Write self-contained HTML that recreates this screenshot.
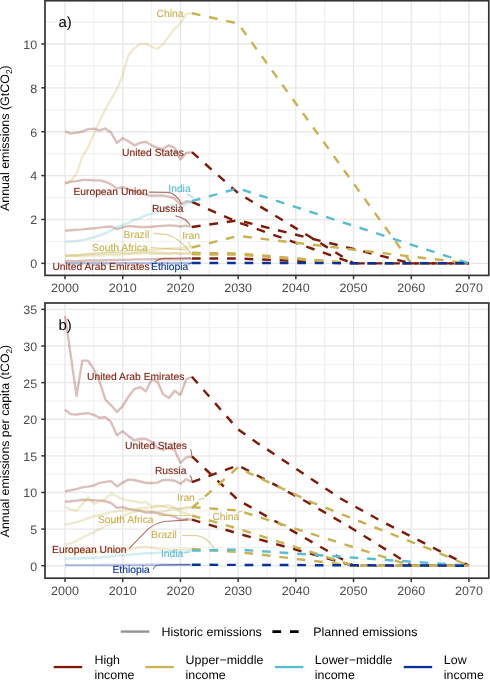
<!DOCTYPE html><html><head><meta charset="utf-8"><style>html,body{margin:0;padding:0;background:#fff;}svg{display:block;}</style></head><body>
<svg width="490" height="685" viewBox="0 0 490 685" font-family='"Liberation Sans", Arial, Helvetica, sans-serif' text-rendering="geometricPrecision">
<rect width="490" height="685" fill="#fff"/>
<g stroke="#f1f1f1" stroke-width="1.3"><line x1="45.0" y1="241.41" x2="488.8" y2="241.41"/><line x1="45.0" y1="197.53" x2="488.8" y2="197.53"/><line x1="45.0" y1="153.65" x2="488.8" y2="153.65"/><line x1="45.0" y1="109.77" x2="488.8" y2="109.77"/><line x1="45.0" y1="65.89" x2="488.8" y2="65.89"/><line x1="45.0" y1="22.01" x2="488.8" y2="22.01"/><line x1="93.86" y1="0.7" x2="93.86" y2="275.4"/><line x1="151.56" y1="0.7" x2="151.56" y2="275.4"/><line x1="209.28" y1="0.7" x2="209.28" y2="275.4"/><line x1="266.99" y1="0.7" x2="266.99" y2="275.4"/><line x1="324.69" y1="0.7" x2="324.69" y2="275.4"/><line x1="382.40" y1="0.7" x2="382.40" y2="275.4"/><line x1="440.12" y1="0.7" x2="440.12" y2="275.4"/></g>
<g stroke="#e8e8e8" stroke-width="1.4"><line x1="45.0" y1="263.35" x2="488.8" y2="263.35"/><line x1="45.0" y1="219.47" x2="488.8" y2="219.47"/><line x1="45.0" y1="175.59" x2="488.8" y2="175.59"/><line x1="45.0" y1="131.71" x2="488.8" y2="131.71"/><line x1="45.0" y1="87.83" x2="488.8" y2="87.83"/><line x1="45.0" y1="43.95" x2="488.8" y2="43.95"/><line x1="65.00" y1="0.7" x2="65.00" y2="275.4"/><line x1="122.71" y1="0.7" x2="122.71" y2="275.4"/><line x1="180.42" y1="0.7" x2="180.42" y2="275.4"/><line x1="238.13" y1="0.7" x2="238.13" y2="275.4"/><line x1="295.84" y1="0.7" x2="295.84" y2="275.4"/><line x1="353.55" y1="0.7" x2="353.55" y2="275.4"/><line x1="411.26" y1="0.7" x2="411.26" y2="275.4"/><line x1="468.97" y1="0.7" x2="468.97" y2="275.4"/></g>
<clipPath id="clipa"><rect x="45.0" y="0.7" width="443.8" height="274.7"/></clipPath>
<g clip-path="url(#clipa)" fill="none" stroke-linejoin="round" stroke-linecap="butt">
<polyline points="65.00,183.27 70.77,181.73 76.54,181.08 82.31,179.98 88.08,179.98 93.86,180.42 99.63,180.42 105.40,181.73 111.17,184.37 116.94,188.53 122.71,187.00 128.48,189.19 134.25,190.95 140.02,192.70 145.79,194.90 151.56,195.77 157.34,195.56 163.11,195.56 168.88,196.65 174.65,198.63 180.42,204.99 186.19,201.26 191.96,201.92" stroke="#7f1a08" stroke-opacity="0.28" stroke-width="2.4"/>
<polyline points="65.00,230.66 70.77,230.22 76.54,229.78 82.31,229.34 88.08,228.68 93.86,228.25 99.63,227.59 105.40,226.93 111.17,226.49 116.94,229.12 122.71,227.37 128.48,226.05 134.25,226.49 140.02,226.93 145.79,226.93 151.56,226.71 157.34,226.27 163.11,225.83 168.88,225.39 174.65,225.61 180.42,226.49 186.19,225.61 191.96,226.93" stroke="#7f1a08" stroke-opacity="0.28" stroke-width="2.4"/>
<polyline points="65.00,260.94 70.77,260.94 76.54,261.16 82.31,260.72 88.08,260.50 93.86,260.50 99.63,260.50 105.40,260.28 111.17,260.06 116.94,260.06 122.71,259.84 128.48,259.84 134.25,259.40 140.02,259.40 145.79,259.40 151.56,259.18 157.34,258.96 163.11,259.18 168.88,259.18 174.65,259.18 180.42,259.18 186.19,258.96 191.96,258.74" stroke="#7f1a08" stroke-opacity="0.28" stroke-width="2.4"/>
<polyline points="65.00,131.27 70.77,133.68 76.54,132.59 82.31,131.71 88.08,129.08 93.86,128.64 99.63,130.61 105.40,128.42 111.17,132.81 116.94,142.90 122.71,138.29 128.48,141.36 134.25,145.31 140.02,142.90 145.79,141.80 151.56,145.31 157.34,147.95 163.11,149.04 168.88,145.31 174.65,147.95 180.42,159.35 186.19,152.99 191.96,152.11" stroke="#7f1a08" stroke-opacity="0.28" stroke-width="2.4"/>
<polyline points="65.00,256.11 70.77,255.89 76.54,256.11 82.31,256.33 88.08,255.89 93.86,255.67 99.63,255.67 105.40,255.23 111.17,254.79 116.94,255.23 122.71,254.14 128.48,253.70 134.25,253.04 140.02,252.38 145.79,251.72 151.56,252.38 157.34,253.04 163.11,253.04 168.88,253.26 174.65,253.04 180.42,253.70 186.19,252.60 191.96,252.82" stroke="#c9b252" stroke-opacity="0.28" stroke-width="2.4"/>
<polyline points="65.00,183.27 70.77,180.86 76.54,173.83 82.31,156.72 88.08,147.29 93.86,133.90 99.63,120.74 105.40,109.33 111.17,98.80 116.94,89.37 122.71,75.10 128.48,54.92 134.25,48.34 140.02,43.95 145.79,43.95 151.56,46.58 157.34,49.00 163.11,43.95 168.88,36.27 174.65,28.59 180.42,23.55 186.19,13.67 191.96,13.23" stroke="#c9b252" stroke-opacity="0.28" stroke-width="2.4"/>
<polyline points="65.00,256.11 70.77,255.67 76.54,255.23 82.31,254.79 88.08,254.14 93.86,253.48 99.63,252.82 105.40,252.38 111.17,251.94 116.94,251.50 122.71,251.06 128.48,250.84 134.25,250.62 140.02,250.19 145.79,249.75 151.56,250.19 157.34,249.75 163.11,249.09 168.88,248.43 174.65,247.99 180.42,247.99 186.19,247.55 191.96,247.55" stroke="#c9b252" stroke-opacity="0.28" stroke-width="2.4"/>
<polyline points="65.00,255.01 70.77,255.01 76.54,255.23 82.31,254.57 88.08,253.92 93.86,254.14 99.63,253.92 105.40,253.26 111.17,252.82 116.94,253.04 122.71,253.26 128.48,253.48 134.25,253.48 140.02,253.48 145.79,253.04 151.56,253.70 157.34,253.48 163.11,253.48 168.88,253.70 174.65,253.04 180.42,253.92 186.19,253.92 191.96,254.35" stroke="#c9b252" stroke-opacity="0.28" stroke-width="2.4"/>
<polyline points="65.00,241.85 70.77,241.41 76.54,240.97 82.31,240.09 88.08,238.78 93.86,237.46 99.63,235.49 105.40,233.07 111.17,230.44 116.94,227.15 122.71,225.17 128.48,222.98 134.25,219.91 140.02,218.15 145.79,215.08 151.56,213.77 157.34,211.35 163.11,209.16 168.88,205.87 174.65,204.99 180.42,208.50 186.19,203.67 191.96,201.04" stroke="#58bdd3" stroke-opacity="0.28" stroke-width="2.4"/>
<polyline points="65.00,263.24 70.77,263.24 76.54,263.24 82.31,263.24 88.08,263.22 93.86,263.22 99.63,263.22 105.40,263.20 111.17,263.20 116.94,263.20 122.71,263.17 128.48,263.15 134.25,263.13 140.02,263.11 145.79,263.09 151.56,263.06 157.34,263.04 163.11,263.00 168.88,262.98 174.65,262.96 180.42,262.96 186.19,262.96 191.96,262.96" stroke="#07329c" stroke-opacity="0.28" stroke-width="2.4"/>
<path d="M149,192.2 L168,192.3 Q176,193 181.6,204" stroke="#7f1a08" stroke-opacity="0.6" stroke-width="1.2"/>
<path d="M187,194 L193.5,197.5" stroke="#58bdd3" stroke-opacity="0.6" stroke-width="1.2"/>
<path d="M175.5,215.9 Q186,218 190,225" stroke="#7f1a08" stroke-opacity="0.6" stroke-width="1.2"/>
<path d="M153.6,233.3 L166.4,234.3 Q180,238 190.7,253" stroke="#c9b252" stroke-opacity="0.6" stroke-width="1.2"/>
<path d="M188,242 L191.4,247" stroke="#c9b252" stroke-opacity="0.6" stroke-width="1.2"/>
<path d="M151,247.6 L188,250" stroke="#c9b252" stroke-opacity="0.6" stroke-width="1.2"/>
<path d="M155,262.1 Q158,258.6 165,258.4 L191,258" stroke="#7f1a08" stroke-opacity="0.6" stroke-width="1.2"/>
<path d="M188,264.3 L192,262.9" stroke="#07329c" stroke-opacity="0.6" stroke-width="1.2"/>
<polyline points="191.96,201.92 238.13,222.32 353.55,263.35 468.97,263.35" stroke="#7f1a08" stroke-width="2.45" stroke-dasharray="8.7 8.85"/>
<polyline points="191.96,226.93 238.13,220.35 411.26,263.35 468.97,263.35" stroke="#7f1a08" stroke-width="2.45" stroke-dasharray="8.7 8.85"/>
<polyline points="191.96,258.52 238.13,258.52 353.55,263.35 468.97,263.35" stroke="#7f1a08" stroke-width="2.45" stroke-dasharray="8.7 8.85"/>
<polyline points="191.96,152.11 238.13,193.14 353.55,263.35 468.97,263.35" stroke="#7f1a08" stroke-width="2.45" stroke-dasharray="8.7 8.85"/>
<polyline points="191.96,252.82 238.13,253.48 353.55,263.35 468.97,263.35" stroke="#c9b252" stroke-width="2.45" stroke-dasharray="8.7 8.85"/>
<polyline points="191.96,13.23 238.13,23.55 411.26,263.35 468.97,263.35" stroke="#c9b252" stroke-width="2.45" stroke-dasharray="8.7 8.85"/>
<polyline points="191.96,247.55 238.13,235.93 468.97,263.35" stroke="#c9b252" stroke-width="2.45" stroke-dasharray="8.7 8.85"/>
<polyline points="191.96,254.35 238.13,254.57 353.55,263.35 468.97,263.35" stroke="#c9b252" stroke-width="2.45" stroke-dasharray="8.7 8.85"/>
<polyline points="191.96,201.04 238.13,188.32 468.97,263.35" stroke="#58bdd3" stroke-width="2.45" stroke-dasharray="8.7 8.85"/>
<polyline points="191.96,263.00 238.13,263.00 468.97,263.35" stroke="#07329c" stroke-width="2.45" stroke-dasharray="8.7 8.85"/>
</g>
<text x="156.5" y="16.8" font-size="10.3" fill="#c9b252" stroke="#c9b252" stroke-width="0.2" stroke-opacity="0.55" text-anchor="start">China</text>
<text x="122.0" y="156.3" font-size="10.3" fill="#7f1a08" stroke="#7f1a08" stroke-width="0.2" stroke-opacity="0.55" text-anchor="start">United States</text>
<text x="73.4" y="194.6" font-size="10.3" fill="#7f1a08" stroke="#7f1a08" stroke-width="0.2" stroke-opacity="0.55" text-anchor="start">European Union</text>
<text x="168.3" y="192.4" font-size="10.3" fill="#58bdd3" stroke="#58bdd3" stroke-width="0.2" stroke-opacity="0.55" text-anchor="start">India</text>
<text x="151.9" y="211.85" font-size="10.3" fill="#7f1a08" stroke="#7f1a08" stroke-width="0.2" stroke-opacity="0.55" text-anchor="start">Russia</text>
<text x="123.6" y="237.8" font-size="10.3" fill="#c9b252" stroke="#c9b252" stroke-width="0.2" stroke-opacity="0.55" text-anchor="start">Brazil</text>
<text x="182.2" y="238.8" font-size="10.3" fill="#c9b252" stroke="#c9b252" stroke-width="0.2" stroke-opacity="0.55" text-anchor="start">Iran</text>
<text x="92.1" y="250.5" font-size="10.3" fill="#c9b252" stroke="#c9b252" stroke-width="0.2" stroke-opacity="0.55" text-anchor="start">South Africa</text>
<text x="52.4" y="270.0" font-size="10.3" fill="#7f1a08" stroke="#7f1a08" stroke-width="0.2" stroke-opacity="0.55" text-anchor="start">United Arab Emirates</text>
<text x="151.1" y="269.7" font-size="10.3" fill="#07329c" stroke="#07329c" stroke-width="0.2" stroke-opacity="0.55" text-anchor="start">Ethiopia</text>
<rect x="45.0" y="0.7" width="443.80" height="274.70" fill="none" stroke="#333" stroke-width="1.7"/>
<g stroke="#333" stroke-width="1.5"><line x1="41.3" y1="263.35" x2="45.0" y2="263.35"/><line x1="41.3" y1="219.47" x2="45.0" y2="219.47"/><line x1="41.3" y1="175.59" x2="45.0" y2="175.59"/><line x1="41.3" y1="131.71" x2="45.0" y2="131.71"/><line x1="41.3" y1="87.83" x2="45.0" y2="87.83"/><line x1="41.3" y1="43.95" x2="45.0" y2="43.95"/><line x1="65.00" y1="275.4" x2="65.00" y2="279.30"/><line x1="122.71" y1="275.4" x2="122.71" y2="279.30"/><line x1="180.42" y1="275.4" x2="180.42" y2="279.30"/><line x1="238.13" y1="275.4" x2="238.13" y2="279.30"/><line x1="295.84" y1="275.4" x2="295.84" y2="279.30"/><line x1="353.55" y1="275.4" x2="353.55" y2="279.30"/><line x1="411.26" y1="275.4" x2="411.26" y2="279.30"/><line x1="468.97" y1="275.4" x2="468.97" y2="279.30"/></g>
<g font-size="12.2" fill="#4d4d4d"><text transform="translate(37.2,268.25) scale(1.025,1)" text-anchor="end">0</text><text transform="translate(37.2,224.37) scale(1.025,1)" text-anchor="end">2</text><text transform="translate(37.2,180.49) scale(1.025,1)" text-anchor="end">4</text><text transform="translate(37.2,136.61) scale(1.025,1)" text-anchor="end">6</text><text transform="translate(37.2,92.73) scale(1.025,1)" text-anchor="end">8</text><text transform="translate(37.2,48.85) scale(1.025,1)" text-anchor="end">10</text><text transform="translate(65.00,291.90) scale(1.03,1)" text-anchor="middle">2000</text><text transform="translate(122.71,291.90) scale(1.03,1)" text-anchor="middle">2010</text><text transform="translate(180.42,291.90) scale(1.03,1)" text-anchor="middle">2020</text><text transform="translate(238.13,291.90) scale(1.03,1)" text-anchor="middle">2030</text><text transform="translate(295.84,291.90) scale(1.03,1)" text-anchor="middle">2040</text><text transform="translate(353.55,291.90) scale(1.03,1)" text-anchor="middle">2050</text><text transform="translate(411.26,291.90) scale(1.03,1)" text-anchor="middle">2060</text><text transform="translate(468.97,291.90) scale(1.03,1)" text-anchor="middle">2070</text></g>
<g stroke="#f1f1f1" stroke-width="1.3"><line x1="45.0" y1="547.39" x2="488.8" y2="547.39"/><line x1="45.0" y1="510.78" x2="488.8" y2="510.78"/><line x1="45.0" y1="474.16" x2="488.8" y2="474.16"/><line x1="45.0" y1="437.55" x2="488.8" y2="437.55"/><line x1="45.0" y1="400.93" x2="488.8" y2="400.93"/><line x1="45.0" y1="364.32" x2="488.8" y2="364.32"/><line x1="45.0" y1="327.70" x2="488.8" y2="327.70"/><line x1="93.86" y1="303.0" x2="93.86" y2="578.2"/><line x1="151.56" y1="303.0" x2="151.56" y2="578.2"/><line x1="209.28" y1="303.0" x2="209.28" y2="578.2"/><line x1="266.99" y1="303.0" x2="266.99" y2="578.2"/><line x1="324.69" y1="303.0" x2="324.69" y2="578.2"/><line x1="382.40" y1="303.0" x2="382.40" y2="578.2"/><line x1="440.12" y1="303.0" x2="440.12" y2="578.2"/></g>
<g stroke="#e8e8e8" stroke-width="1.4"><line x1="45.0" y1="565.70" x2="488.8" y2="565.70"/><line x1="45.0" y1="529.09" x2="488.8" y2="529.09"/><line x1="45.0" y1="492.47" x2="488.8" y2="492.47"/><line x1="45.0" y1="455.86" x2="488.8" y2="455.86"/><line x1="45.0" y1="419.24" x2="488.8" y2="419.24"/><line x1="45.0" y1="382.62" x2="488.8" y2="382.62"/><line x1="45.0" y1="346.01" x2="488.8" y2="346.01"/><line x1="45.0" y1="309.40" x2="488.8" y2="309.40"/><line x1="65.00" y1="303.0" x2="65.00" y2="578.2"/><line x1="122.71" y1="303.0" x2="122.71" y2="578.2"/><line x1="180.42" y1="303.0" x2="180.42" y2="578.2"/><line x1="238.13" y1="303.0" x2="238.13" y2="578.2"/><line x1="295.84" y1="303.0" x2="295.84" y2="578.2"/><line x1="353.55" y1="303.0" x2="353.55" y2="578.2"/><line x1="411.26" y1="303.0" x2="411.26" y2="578.2"/><line x1="468.97" y1="303.0" x2="468.97" y2="578.2"/></g>
<clipPath id="clipb"><rect x="45.0" y="303.0" width="443.8" height="275.20000000000005"/></clipPath>
<g clip-path="url(#clipb)" fill="none" stroke-linejoin="round" stroke-linecap="butt">
<polyline points="65.00,501.70 70.77,501.26 76.54,500.67 82.31,499.72 88.08,500.01 93.86,500.31 99.63,500.67 105.40,501.26 111.17,503.09 116.94,507.92 122.71,507.12 128.48,508.87 134.25,509.90 140.02,510.78 145.79,512.61 151.56,512.24 157.34,512.97 163.11,514.44 168.88,515.17 174.65,516.64 180.42,519.57 186.19,518.98 191.96,519.57" stroke="#7f1a08" stroke-opacity="0.28" stroke-width="2.4"/>
<polyline points="65.00,491.37 70.77,490.27 76.54,489.17 82.31,487.42 88.08,486.61 93.86,485.51 99.63,482.88 105.40,481.85 111.17,481.12 116.94,486.39 122.71,482.58 128.48,479.65 134.25,480.02 140.02,481.49 145.79,482.95 151.56,482.95 157.34,482.58 163.11,480.02 168.88,480.02 174.65,480.75 180.42,483.68 186.19,479.29 191.96,482.07" stroke="#7f1a08" stroke-opacity="0.28" stroke-width="2.4"/>
<polyline points="65.00,315.99 70.77,355.53 76.54,395.81 82.31,360.66 88.08,360.66 93.86,369.44 99.63,381.89 105.40,399.47 111.17,405.33 116.94,411.92 122.71,406.06 128.48,396.54 134.25,389.22 140.02,387.02 145.79,391.41 151.56,379.70 157.34,381.16 163.11,394.34 168.88,398.00 174.65,390.68 180.42,395.07 186.19,379.33 191.96,376.77" stroke="#7f1a08" stroke-opacity="0.28" stroke-width="2.4"/>
<polyline points="65.00,409.72 70.77,414.11 76.54,414.48 82.31,413.75 88.08,413.09 93.86,414.85 99.63,417.78 105.40,417.04 111.17,422.17 116.94,435.35 122.71,431.32 128.48,435.94 134.25,440.48 140.02,439.01 145.79,439.01 151.56,441.94 157.34,447.80 163.11,450.00 168.88,447.80 174.65,450.00 180.42,462.89 186.19,457.32 191.96,456.44" stroke="#7f1a08" stroke-opacity="0.28" stroke-width="2.4"/>
<polyline points="65.00,551.79 70.77,551.42 76.54,551.93 82.31,552.52 88.08,552.15 93.86,552.01 99.63,551.93 105.40,551.42 111.17,550.69 116.94,551.57 122.71,549.96 128.48,549.22 134.25,548.12 140.02,547.39 145.79,546.66 151.56,547.76 157.34,548.86 163.11,548.86 168.88,549.59 174.65,549.59 180.42,550.32 186.19,548.86 191.96,549.22" stroke="#c9b252" stroke-opacity="0.28" stroke-width="2.4"/>
<polyline points="65.00,544.46 70.77,543.36 76.54,541.17 82.31,537.43 88.08,534.94 93.86,532.38 99.63,529.09 105.40,525.79 111.17,523.23 116.94,521.03 122.71,516.64 128.48,513.71 134.25,511.88 140.02,510.78 145.79,510.78 151.56,511.51 157.34,512.24 163.11,511.51 168.88,510.05 174.65,509.31 180.42,508.58 186.19,507.12 191.96,507.12" stroke="#c9b252" stroke-opacity="0.28" stroke-width="2.4"/>
<polyline points="65.00,524.62 70.77,523.59 76.54,522.13 82.31,520.30 88.08,518.10 93.86,516.27 99.63,514.81 105.40,513.56 111.17,512.39 116.94,511.36 122.71,510.48 128.48,509.90 134.25,509.31 140.02,508.21 145.79,507.48 151.56,507.85 157.34,506.75 163.11,506.02 168.88,505.14 174.65,507.48 180.42,509.39 186.19,508.21 191.96,507.99" stroke="#c9b252" stroke-opacity="0.28" stroke-width="2.4"/>
<polyline points="65.00,506.90 70.77,509.31 76.54,511.07 82.31,504.19 88.08,497.38 93.86,503.97 99.63,501.26 105.40,498.62 111.17,493.57 116.94,496.13 122.71,499.28 128.48,500.67 134.25,501.26 140.02,502.58 145.79,501.99 151.56,506.31 157.34,505.65 163.11,506.38 168.88,507.85 174.65,507.85 180.42,512.24 186.19,513.71 191.96,515.46" stroke="#c9b252" stroke-opacity="0.28" stroke-width="2.4"/>
<polyline points="65.00,558.60 70.77,558.52 76.54,558.52 82.31,558.30 88.08,558.01 93.86,557.79 99.63,557.43 105.40,556.91 111.17,556.25 116.94,555.59 122.71,555.30 128.48,554.86 134.25,554.20 140.02,553.91 145.79,553.25 151.56,553.25 157.34,552.74 163.11,552.37 168.88,551.57 174.65,551.64 180.42,552.81 186.19,551.57 191.96,551.05" stroke="#58bdd3" stroke-opacity="0.28" stroke-width="2.4"/>
<polyline points="65.00,565.11 70.77,565.11 76.54,565.11 82.31,565.11 88.08,565.11 93.86,565.11 99.63,565.11 105.40,565.04 111.17,565.04 116.94,565.04 122.71,565.04 128.48,564.97 134.25,564.97 140.02,564.89 145.79,564.89 151.56,564.82 157.34,564.75 163.11,564.67 168.88,564.60 174.65,564.60 180.42,564.60 186.19,564.60 191.96,564.60" stroke="#07329c" stroke-opacity="0.28" stroke-width="2.4"/>
<path d="M190.0,449.3 Q191.6,449.8 191.6,455.5" stroke="#7f1a08" stroke-opacity="0.6" stroke-width="1.2"/>
<path d="M189.7,475.6 Q191.6,476.5 192.0,481.5" stroke="#7f1a08" stroke-opacity="0.6" stroke-width="1.2"/>
<path d="M129.1,548.6 L146.5,530.6 Q153,523.8 164.2,521.5 L188,519.8" stroke="#7f1a08" stroke-opacity="0.6" stroke-width="1.2"/>
<path d="M158.4,515.5 L191.4,515.5" stroke="#c9b252" stroke-opacity="0.6" stroke-width="1.2"/>
<path d="M198.1,499.6 Q202.5,499.8 204.2,497.6" stroke="#c9b252" stroke-opacity="0.6" stroke-width="1.2"/>
<path d="M237.9,513.4 Q238.8,511.4 242.2,511.2" stroke="#c9b252" stroke-opacity="0.6" stroke-width="1.2"/>
<path d="M182.2,535.3 L197,535.6 Q208,537 214.1,548.8" stroke="#c9b252" stroke-opacity="0.6" stroke-width="1.2"/>
<path d="M153.1,569.2 Q155,565.3 159,565.0 L190,564.6" stroke="#07329c" stroke-opacity="0.6" stroke-width="1.2"/>
<path d="M183.8,553 L189,552.2" stroke="#58bdd3" stroke-opacity="0.6" stroke-width="1.2"/>
<polyline points="191.96,519.57 238.13,533.55 353.55,565.70 468.97,565.70" stroke="#7f1a08" stroke-width="2.45" stroke-dasharray="8.7 8.85"/>
<polyline points="191.96,482.07 238.13,465.37 274.20,484.41 305.94,501.48 350.09,527.18 395.10,555.30 411.26,565.70 468.97,565.70" stroke="#7f1a08" stroke-width="2.45" stroke-dasharray="8.7 8.85"/>
<polyline points="191.96,376.77 238.13,429.49 259.48,444.50 267.56,449.63 295.84,468.60 339.99,498.18 382.40,521.76 436.08,549.22 468.97,565.70" stroke="#7f1a08" stroke-width="2.45" stroke-dasharray="8.7 8.85"/>
<polyline points="191.96,456.44 238.13,500.01 353.55,565.70 468.97,565.70" stroke="#7f1a08" stroke-width="2.45" stroke-dasharray="8.7 8.85"/>
<polyline points="191.96,549.08 238.13,551.93 353.55,565.70 468.97,565.70" stroke="#c9b252" stroke-width="2.45" stroke-dasharray="8.7 8.85"/>
<polyline points="191.96,507.12 238.13,510.41 411.26,565.70 468.97,565.70" stroke="#c9b252" stroke-width="2.45" stroke-dasharray="8.7 8.85"/>
<polyline points="191.96,507.99 238.13,467.21 249.67,473.43 281.41,488.08 313.15,502.80 346.62,516.20 429.73,549.22 468.97,565.70" stroke="#c9b252" stroke-width="2.45" stroke-dasharray="8.7 8.85"/>
<polyline points="191.96,515.46 238.13,528.65 353.55,565.70 468.97,565.70" stroke="#c9b252" stroke-width="2.45" stroke-dasharray="8.7 8.85"/>
<polyline points="191.96,550.61 238.13,549.59 468.97,565.70" stroke="#58bdd3" stroke-width="2.45" stroke-dasharray="8.7 8.85"/>
<polyline points="191.96,564.82 238.13,564.89 468.97,565.70" stroke="#07329c" stroke-width="2.45" stroke-dasharray="8.7 8.85"/>
</g>
<text x="87.0" y="380.0" font-size="10.3" fill="#7f1a08" stroke="#7f1a08" stroke-width="0.2" stroke-opacity="0.55" text-anchor="start">United Arab Emirates</text>
<text x="125.1" y="448.8" font-size="10.3" fill="#7f1a08" stroke="#7f1a08" stroke-width="0.2" stroke-opacity="0.55" text-anchor="start">United States</text>
<text x="154.9" y="473.9" font-size="10.3" fill="#7f1a08" stroke="#7f1a08" stroke-width="0.2" stroke-opacity="0.55" text-anchor="start">Russia</text>
<text x="177.1" y="500.9" font-size="10.3" fill="#c9b252" stroke="#c9b252" stroke-width="0.2" stroke-opacity="0.55" text-anchor="start">Iran</text>
<text x="98.0" y="522.6" font-size="10.3" fill="#c9b252" stroke="#c9b252" stroke-width="0.2" stroke-opacity="0.55" text-anchor="start">South Africa</text>
<text x="212.4" y="519.6" font-size="10.3" fill="#c9b252" stroke="#c9b252" stroke-width="0.2" stroke-opacity="0.55" text-anchor="start">China</text>
<text x="151.1" y="537.8" font-size="10.3" fill="#c9b252" stroke="#c9b252" stroke-width="0.2" stroke-opacity="0.55" text-anchor="start">Brazil</text>
<text x="52.1" y="553.1" font-size="10.3" fill="#7f1a08" stroke="#7f1a08" stroke-width="0.2" stroke-opacity="0.55" text-anchor="start">European Union</text>
<text x="160.9" y="556.8" font-size="10.3" fill="#58bdd3" stroke="#58bdd3" stroke-width="0.2" stroke-opacity="0.55" text-anchor="start">India</text>
<text x="112.5" y="572.6" font-size="10.3" fill="#07329c" stroke="#07329c" stroke-width="0.2" stroke-opacity="0.55" text-anchor="start">Ethiopia</text>
<rect x="45.0" y="303.0" width="443.80" height="275.20" fill="none" stroke="#333" stroke-width="1.7"/>
<g stroke="#333" stroke-width="1.5"><line x1="41.3" y1="565.70" x2="45.0" y2="565.70"/><line x1="41.3" y1="529.09" x2="45.0" y2="529.09"/><line x1="41.3" y1="492.47" x2="45.0" y2="492.47"/><line x1="41.3" y1="455.86" x2="45.0" y2="455.86"/><line x1="41.3" y1="419.24" x2="45.0" y2="419.24"/><line x1="41.3" y1="382.62" x2="45.0" y2="382.62"/><line x1="41.3" y1="346.01" x2="45.0" y2="346.01"/><line x1="41.3" y1="309.40" x2="45.0" y2="309.40"/><line x1="65.00" y1="578.2" x2="65.00" y2="582.10"/><line x1="122.71" y1="578.2" x2="122.71" y2="582.10"/><line x1="180.42" y1="578.2" x2="180.42" y2="582.10"/><line x1="238.13" y1="578.2" x2="238.13" y2="582.10"/><line x1="295.84" y1="578.2" x2="295.84" y2="582.10"/><line x1="353.55" y1="578.2" x2="353.55" y2="582.10"/><line x1="411.26" y1="578.2" x2="411.26" y2="582.10"/><line x1="468.97" y1="578.2" x2="468.97" y2="582.10"/></g>
<g font-size="12.2" fill="#4d4d4d"><text transform="translate(37.2,570.60) scale(1.025,1)" text-anchor="end">0</text><text transform="translate(37.2,533.99) scale(1.025,1)" text-anchor="end">5</text><text transform="translate(37.2,497.37) scale(1.025,1)" text-anchor="end">10</text><text transform="translate(37.2,460.75) scale(1.025,1)" text-anchor="end">15</text><text transform="translate(37.2,424.14) scale(1.025,1)" text-anchor="end">20</text><text transform="translate(37.2,387.52) scale(1.025,1)" text-anchor="end">25</text><text transform="translate(37.2,350.91) scale(1.025,1)" text-anchor="end">30</text><text transform="translate(37.2,314.30) scale(1.025,1)" text-anchor="end">35</text><text transform="translate(65.00,594.70) scale(1.03,1)" text-anchor="middle">2000</text><text transform="translate(122.71,594.70) scale(1.03,1)" text-anchor="middle">2010</text><text transform="translate(180.42,594.70) scale(1.03,1)" text-anchor="middle">2020</text><text transform="translate(238.13,594.70) scale(1.03,1)" text-anchor="middle">2030</text><text transform="translate(295.84,594.70) scale(1.03,1)" text-anchor="middle">2040</text><text transform="translate(353.55,594.70) scale(1.03,1)" text-anchor="middle">2050</text><text transform="translate(411.26,594.70) scale(1.03,1)" text-anchor="middle">2060</text><text transform="translate(468.97,594.70) scale(1.03,1)" text-anchor="middle">2070</text></g>
<text x="58.4" y="27.3" font-size="14.9" fill="#000">a)</text>
<text x="58.4" y="329.6" font-size="14.9" fill="#000">b)</text>
<text transform="translate(9.2,138.2) rotate(-90) scale(1.012,1)" font-size="12.3" fill="#000" text-anchor="middle">Annual emissions (GtCO<tspan font-size="8.2" dy="2.6">2</tspan><tspan dy="-2.6">)</tspan></text>
<text transform="translate(9.0,441.0) rotate(-90) scale(1.012,1)" font-size="12.2" fill="#000" text-anchor="middle">Annual emissions per capita (tCO<tspan font-size="8.2" dy="2.6">2</tspan><tspan dy="-2.6">)</tspan></text>
<line x1="120.8" y1="631.6" x2="149.4" y2="631.6" stroke="#939393" stroke-width="2.4"/><line x1="272.4" y1="631.6" x2="300.8" y2="631.6" stroke="#000" stroke-width="2.6" stroke-dasharray="8.7 8.85"/><text transform="translate(161.6,636) scale(1.02,1)" font-size="12.2" fill="#000">Historic emissions</text><text transform="translate(313.2,636) scale(1.018,1)" font-size="12.2" fill="#000">Planned emissions</text><line x1="53.7" y1="667.05" x2="82.2" y2="667.05" stroke="#7f1a08" stroke-width="2.3"/><text transform="translate(94.4,664.4) scale(1.02,1)" font-size="12.2" fill="#000">High</text><text transform="translate(94.4,678.7) scale(1.02,1)" font-size="12.2" fill="#000">income</text><line x1="145.3" y1="667.05" x2="173.8" y2="667.05" stroke="#c9b252" stroke-width="2.3"/><text transform="translate(185.6,664.4) scale(1.02,1)" font-size="12.2" fill="#000">Upper−middle</text><text transform="translate(185.6,678.7) scale(1.02,1)" font-size="12.2" fill="#000">income</text><line x1="274.9" y1="667.05" x2="303.4" y2="667.05" stroke="#58bdd3" stroke-width="2.3"/><text transform="translate(314.8,664.4) scale(1.02,1)" font-size="12.2" fill="#000">Lower−middle</text><text transform="translate(314.8,678.7) scale(1.02,1)" font-size="12.2" fill="#000">income</text><line x1="403.7" y1="667.05" x2="432.2" y2="667.05" stroke="#07329c" stroke-width="2.3"/><text transform="translate(443.8,664.4) scale(1.02,1)" font-size="12.2" fill="#000">Low</text><text transform="translate(443.8,678.7) scale(1.02,1)" font-size="12.2" fill="#000">income</text>
</svg></body></html>
